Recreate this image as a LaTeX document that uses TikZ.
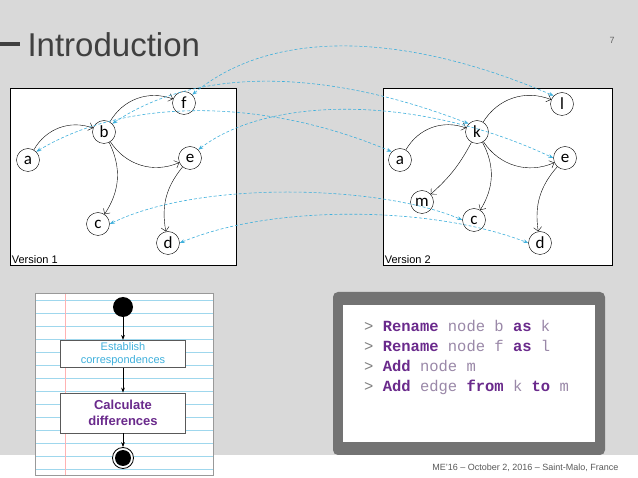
\documentclass[tikz,border=0pt]{standalone}
\usepackage{fontspec}
\setmainfont{Liberation Sans}
\newfontfamily\mymono{Liberation Mono}
\newfontfamily\mycal{Carlito}
\usetikzlibrary{arrows.meta}
\definecolor{bg}{HTML}{D9D9D9}
\definecolor{lb}{HTML}{3FB0DC}
\definecolor{pur}{HTML}{6A2A8C}
\definecolor{lpur}{HTML}{9A88A8}
\begin{document}
\begin{tikzpicture}[x=1pt,y=-1pt,
 gn/.style={circle,draw,fill=white,minimum size=23pt,inner sep=0pt,font=\mycal\fontsize{17}{17}\selectfont},
 ed/.style={-{Straight Barb[length=4pt]},thin},
 corr/.style={{Stealth[length=5pt]}-{Stealth[length=5pt]},lb,densely dashed,semithick},
 frame/.style={draw,thick,fill=white},
 flowstep/.style={draw=gray!70!black,fill=white,thick,minimum width=125pt,align=center}]
\useasboundingbox (0,0) rectangle (638,478);
\fill[bg] (0,0) rectangle (638,455);
\fill[white] (0,455) rectangle (638,478);
\fill[black!75] (0,42) rectangle (20,46);
\node[anchor=west,text=black!75,font=\fontsize{33}{33}\selectfont] (title) at (24,45) {Introduction};
\node[text=black!60,font=\fontsize{9}{9}\selectfont] (pg) at (612,40) {7};
% boxes
\node[frame,minimum width=226pt,minimum height=177pt,inner sep=0pt] (v1) at (123,176.5) {};
\node[frame,minimum width=229pt,minimum height=177pt,inner sep=0pt] (v2) at (497.5,176.5) {};
\node[anchor=south west,font=\fontsize{11}{11}\selectfont,inner sep=2pt] (l1) at (v1.south west) {Version 1};
\node[anchor=south west,font=\fontsize{11}{11}\selectfont,inner sep=2pt] (l2) at (v2.south west) {Version 2};
% graph 1
\node[gn] (f1) at (184,103) {f};
\node[gn] (b1) at (104,132) {b};
\node[gn] (a1) at (28,160) {a};
\node[gn] (e1) at (190,158) {e};
\node[gn] (c1) at (98,224) {c};
\node[gn] (d1) at (168,243) {d};
\draw[ed] (a1) to[bend left=40] (b1);
\draw[ed] (b1) to[bend left=40] (f1);
\draw[ed] (b1) to[bend right=40] (e1);
\draw[ed] (b1) to[bend left=30] (c1);
\draw[ed] (e1) to[bend right=25] (d1);
% graph 2
\node[gn] (l2n) at (562,104) {l};
\node[gn] (k2) at (477,132) {k};
\node[gn] (a2) at (400,160) {a};
\node[gn] (e2) at (565,158) {e};
\node[gn] (m2) at (422,202) {m};
\node[gn] (c2) at (474,220) {c};
\node[gn] (d2) at (540,243) {d};
\draw[ed] (a2) to[bend left=40] (k2);
\draw[ed] (k2) to[bend left=40] (l2n);
\draw[ed] (k2) to[bend right=40] (e2);
\draw[ed] (k2) to[bend left=10] (m2);
\draw[ed] (k2) to[bend left=30] (c2);
\draw[ed] (e2) to[bend right=25] (d2);
% correspondences
\draw[corr] (f1.north east) .. controls (270,30) and (400,30) .. (l2n.north west);
\draw[corr] (b1.north east) .. controls (200,65) and (330,70) .. (k2.north west);
\draw[corr] (a1.north east) .. controls (130,95) and (270,100) .. (a2.north west);
\draw[corr] (e1.north east) .. controls (270,95) and (420,95) .. (e2.west);
\draw[corr] (c1.east) .. controls (200,180) and (380,185) .. (c2.west);
\draw[corr] (d1.east) .. controls (270,205) and (430,205) .. (d2.west);
% notebook
\fill[white] (35,293) rectangle (213,475);
\foreach \yy in {300,313,...,475} \draw[lb!50] (35,\yy) -- (213,\yy);
\draw[red!30] (65,293) -- (65,475);
\draw[black!40] (35,293) rectangle (213,475);
\node[circle,fill=black,minimum size=20pt,inner sep=0pt] (st) at (123,307) {};
\node[flowstep,minimum height=25pt,text=lb,font=\fontsize{11}{13}\selectfont,inner sep=2pt] (s1) at (123,354) {Establish\\correspondences};
\node[flowstep,minimum height=40pt,text=pur,font=\bfseries\fontsize{13}{16}\selectfont] (s2) at (123,413) {Calculate\\differences};
\node[circle,draw,thick,fill=white,minimum size=21pt,inner sep=0pt] (en) at (123,458) {};
\node[circle,fill=black,minimum size=16pt,inner sep=0pt] (en2) at (en) {};
\draw[-{Stealth[length=5pt]},thick] (st) -- (s1);
\draw[-{Stealth[length=5pt]},thick] (s1) -- (s2);
\draw[-{Stealth[length=5pt]},thick] (s2) -- (en);
% code
\fill[black!55,rounded corners=5pt] (333,292) rectangle (605,455);
\fill[white] (343,305) rectangle (595,442);
\node[anchor=north west,align=left,font=\mymono\fontsize{15.5}{20}\selectfont,text=lpur,inner sep=0pt] (code) at (364,320) {%
{\color{gray}>} {\bfseries\color{pur}Rename} node b {\bfseries\color{pur}as} k\\
{\color{gray}>} {\bfseries\color{pur}Rename} node f {\bfseries\color{pur}as} l\\
{\color{gray}>} {\bfseries\color{pur}Add} node m\\
{\color{gray}>} {\bfseries\color{pur}Add} edge {\bfseries\color{pur}from} k {\bfseries\color{pur}to} m};
\node[anchor=east,text=black!65,font=\fontsize{9}{9}\selectfont] (foot) at (622,468) {ME'16 -- October 2, 2016 -- Saint-Malo, France};
\end{tikzpicture}
\end{document}
